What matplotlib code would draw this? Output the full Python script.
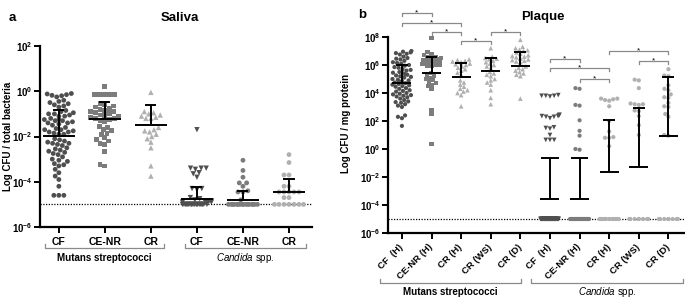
import numpy as np
import matplotlib
matplotlib.use('Agg')
import matplotlib.pyplot as plt
from matplotlib.lines import Line2D
from matplotlib.ticker import FixedLocator, FuncFormatter, NullLocator

plt.rcParams['font.family'] = ['Liberation Sans', 'DejaVu Sans']
plt.rcParams['mathtext.fontset'] = 'custom'
plt.rcParams['mathtext.rm'] = 'Liberation Sans:bold'
plt.rcParams['mathtext.bf'] = 'Liberation Sans:bold'
plt.rcParams['mathtext.it'] = 'Liberation Sans:italic'

# ---------------- DATA (log10 values) ----------------
saliva_labels = ['CF', 'CE-NR', 'CR', 'CF', 'CE-NR', 'CR']

saliva_ms_cf = [-0.1, -0.12, -0.15, -0.18, -0.2, -0.25,
                -0.4, -0.45, -0.5, -0.55, -0.6, -0.65, -0.7,
                -0.85, -0.9, -0.95, -1.0, -1.0, -1.05, -1.1, -1.1,
                -1.2, -1.25, -1.25, -1.3, -1.3, -1.35, -1.4, -1.4, -1.45, -1.5,
                -1.6, -1.65, -1.7, -1.7, -1.75, -1.8, -1.8, -1.85, -1.9, -1.9,
                -2.1, -2.15, -2.2, -2.25, -2.3, -2.3, -2.35, -2.4,
                -2.5, -2.55, -2.6, -2.65, -2.7, -2.75, -2.8,
                -2.9, -3.0, -3.05, -3.1, -3.2, -3.25, -3.3,
                -3.45, -3.6, -3.75, -3.9, -4.2, -4.6, -4.6, -4.6]
saliva_ms_cenr = [0.2, -0.15, -0.15, -0.15, -0.15, -0.15,
                  -0.55, -0.6, -0.65, -0.7, -0.75, -0.8, -0.85, -0.9, -0.9, -0.95,
                  -1.0, -1.0, -1.05, -1.1, -1.1, -1.15, -1.2, -1.2, -1.25, -1.3, -1.35,
                  -1.55, -1.6, -1.7, -1.75, -1.85, -1.9,
                  -2.05, -2.15, -2.2, -2.3, -2.35, -2.65, -3.25, -3.3]
saliva_ms_cr = [-0.05, -0.9, -0.95, -1.0, -1.05, -1.1, -1.15, -1.2, -1.2,
                -1.6, -1.7, -1.75, -1.8, -1.9, -2.0, -2.1, -2.25,
                -2.5, -3.3, -3.75]
saliva_ca_cf = [-1.7, -3.4, -3.4, -3.4, -3.45, -3.6, -3.65, -3.8, -4.3, -4.3, -4.35,
                -4.7, -4.75, -4.8, -4.85, -4.85, -4.85, -4.9, -4.9, -4.9, -4.9,
                -5, -5, -5, -5, -5, -5, -5, -5, -5, -5, -5, -5, -5, -5, -5, -5, -5, -5, -5, -5]
saliva_ca_cenr = [-3.05, -3.5, -3.8, -4.05, -4.05, -4.2, -4.4, -4.45, -4.45, -4.8,
                  -5, -5, -5, -5, -5, -5, -5, -5, -5, -5, -5, -5, -5, -5, -5, -5]
saliva_ca_cr = [-2.8, -3.15, -3.7, -3.7, -4.2, -4.2, -4.45, -4.45, -4.45, -4.45, -4.45,
                -4.7, -4.7, -5, -5, -5, -5, -5, -5, -5]
saliva_median = [-1.99, -1.22, -1.5, -4.78, -4.81, -4.46]
saliva_upper = [-0.81, -0.46, -0.6, -4.22, -4.39, -3.86]

plaque_labels = ['CF  (H)', 'CE-NR (H)', 'CR (H)', 'CR (WS)', 'CR (D)',
                 'CF  (H)', 'CE-NR (H)', 'CR (H)', 'CR (WS)', 'CR (D)']

plaque_ms_cf_h = [7.0, 6.95, 6.9, 6.85, 6.8, 6.75,
                  6.6, 6.5, 6.45, 6.4, 6.3, 6.2, 6.15, 6.1, 6.0, 5.95,
                  5.85, 5.8, 5.7, 5.65, 5.6, 5.5, 5.45, 5.4, 5.35, 5.3, 5.25, 5.2,
                  5.15, 5.1, 5.0, 4.95, 4.9, 4.85, 4.8, 4.75, 4.7, 4.65, 4.6, 4.55, 4.5, 4.45,
                  4.35, 4.3, 4.2, 4.15, 4.1, 4.0, 3.95, 3.9, 3.85, 3.8, 3.75, 3.7,
                  3.6, 3.5, 3.4, 3.35, 3.3, 3.2, 3.1, 3.0, 2.4, 2.3, 2.2, 1.65]
plaque_ms_cenr_h = [7.9, 6.9, 6.8, 6.7,
                    6.6, 6.55, 6.5, 6.5, 6.45, 6.4, 6.4, 6.35, 6.3, 6.3, 6.25, 6.2, 6.2, 6.15,
                    6.1, 6.05, 6.0, 6.0, 5.95, 5.9,
                    5.4, 5.3, 5.2, 5.1, 5.0, 4.9, 4.8, 4.7, 4.6, 4.5, 4.3, 2.8, 2.5, 0.35]
plaque_ms_cr_h = [6.4, 6.35, 6.3, 6.25, 6.2, 6.1, 6.05, 6.0, 5.9, 5.8, 5.7, 5.6, 5.45, 5.3,
                  4.9, 4.75, 4.6, 4.45, 4.3, 4.2, 4.1, 4.0, 3.85, 3.05]
plaque_ms_cr_ws = [7.2, 6.6, 6.5, 6.45, 6.4, 6.3, 6.2, 6.1, 6.0, 5.9, 5.8,
                   5.5, 5.4, 5.3, 5.2, 5.0, 4.9, 4.75, 4.6, 4.2, 3.65, 3.2]
plaque_ms_cr_d = [7.8, 7.3, 7.2, 7.1, 7.05, 7.0, 6.9, 6.8, 6.7,
                  6.65, 6.6, 6.55, 6.5, 6.45, 6.4, 6.35, 6.3, 6.25, 6.2,
                  5.9, 5.8, 5.7, 5.6, 5.5, 5.4, 5.3, 5.2, 3.6]
plaque_ca_cf_h = [3.85, 3.8, 3.8, 3.75, 3.8, 2.45, 2.4, 2.35, 2.35, 2.3, 2.3, 2.2,
                  1.55, 1.5, 1.45, 1.0, 0.65, 0.65, 0.65] + [-5] * 45
plaque_ca_cenr_h = [4.35, 4.3, 3.15, 3.1, 2.05, 1.3, 0.95, 0.0, -0.05] + [-5] * 30
plaque_ca_cr_h = [3.6, 3.55, 3.5, 3.45, 3.6, 3.05, 2.0, 1.25, 0.8, 0.8, 0.85, 0.2] + [-5] * 12
plaque_ca_cr_ws = [4.95, 4.9, 4.35, 3.25, 3.2, 3.2, 3.15, 2.75, 2.7, 2.35, 1.7, 1.0] + [-5] * 8
plaque_ca_cr_d = [5.7, 5.25, 5.2, 4.55, 4.3, 4.2, 3.9, 3.7, 3.65, 3.3, 3.05, 3.0,
                  2.5, 2.3, 1.0, 0.95] + [-5] * 8
plaque_center = [4.69, 5.45, 5.12, 5.57, 5.95, -3.57, -3.6, -1.64, -1.26, 0.95]
plaque_upper = [6.0, 6.6, 6.12, 6.48, 6.95, -0.62, -0.62, 2.07, 2.95, 5.17]

# significance pairs (group i, group j)
plaque_sig_pairs = [(0, 1), (0, 2), (1, 2), (2, 3), (3, 4),
                    (5, 6), (5, 7), (6, 7), (7, 9), (8, 9)]

detection_limit = 1e-5

# ---------------- STYLE ----------------
DARK, MED, LIGHT = '#4f4f4f', '#7c7c7c', '#b0b0b0'
saliva_colors = [DARK, MED, LIGHT, DARK, MED, LIGHT]
saliva_markers = ['o', 's', '^', 'v', 'o', 'o']
plaque_colors = [DARK, MED, LIGHT, LIGHT, LIGHT, DARK, MED, LIGHT, LIGHT, LIGHT]
plaque_markers = ['o', 's', '^', '^', '^', 'v', 'o', 'o', 'o', 'o']
plaque_cap_half = [0.2, 0.2, 0.2, 0.2, 0.2, 0.3, 0.3, 0.2, 0.2, 0.2]
sig_levels = [9.71, 9.0, 8.36, 7.71, 8.36, 6.43, 5.79, 5.0, 7.0, 6.29]

W, H = 685, 298
fig = plt.figure(figsize=(W / 100, H / 100), dpi=100)


def fx(x):
    return x / W


def fy(y):
    return 1 - y / H


axa = fig.add_axes([fx(40), fy(227), 272 / W, (227 - 46) / H])
axb = fig.add_axes([fx(388), fy(233), 297 / W, (233 - 37) / H])

axa.set_yscale('log'); axb.set_yscale('log')
axa.set_xlim(-0.41, 5.5); axa.set_ylim(1e-6, 1e2)
axb.set_xlim(-0.47, 9.56); axb.set_ylim(1e-6, 1e8)


def swarm(ax, xc, logs, d, wmax):
    vals = 10.0 ** np.asarray(logs, dtype=float)
    pts = ax.transData.transform(np.column_stack([np.full(len(vals), xc), vals]))
    ypx = pts[:, 1]
    xs = np.zeros(len(vals))
    placed = []
    overflow = []
    for i in np.argsort(ypx, kind='stable'):
        y = ypx[i]
        cands = [0.0]
        for (xj, yj) in placed:
            dy = abs(y - yj)
            if dy < d:
                dx = np.sqrt(d * d - dy * dy)
                cands += [xj - dx, xj + dx]
        cands.sort(key=abs)
        chosen = None
        for c in cands:
            if abs(c) > wmax + 1e-9:
                break
            if all((c - xj) ** 2 + (y - yj) ** 2 >= d * d - 1e-6 for xj, yj in placed):
                chosen = c
                break
        if chosen is None:
            overflow.append(i)
        else:
            xs[i] = chosen
            placed.append((chosen, y))
    if overflow:
        n = len(overflow)
        xs[overflow] = np.linspace(-wmax, wmax, n) if n > 1 else 0.0
    p0 = ax.transData.transform((xc, 1.0))[0]
    p1 = ax.transData.transform((xc + 1, 1.0))[0]
    return xc + xs / (p1 - p0), vals


def draw_groups(ax, groups, colors, markers, center, upper, d, wmax, s,
                wide_half, cap_half):
    for k, logs in enumerate(groups):
        xs, vals = swarm(ax, k, logs, d, wmax)
        ss = s * 1.25 if markers[k] in ('^', 'v') else s
        ax.scatter(xs, vals, s=ss, marker=markers[k], color=colors[k],
                   edgecolors='none', zorder=3, clip_on=False)
    for k in range(len(groups)):
        m, u = 10 ** center[k], 10 ** upper[k]
        ch = cap_half[k] if isinstance(cap_half, list) else cap_half
        ax.plot([k, k], [m, u], color='black', lw=1.4, zorder=4, solid_capstyle='butt')
        ax.plot([k - wide_half, k + wide_half], [m, m], color='black', lw=1.4, zorder=4,
                solid_capstyle='butt')
        ax.plot([k - ch, k + ch], [u, u], color='black', lw=1.4, zorder=4,
                solid_capstyle='butt')


saliva_groups = [saliva_ms_cf, saliva_ms_cenr, saliva_ms_cr,
                 saliva_ca_cf, saliva_ca_cenr, saliva_ca_cr]
plaque_groups = [plaque_ms_cf_h, plaque_ms_cenr_h, plaque_ms_cr_h, plaque_ms_cr_ws,
                 plaque_ms_cr_d, plaque_ca_cf_h, plaque_ca_cenr_h, plaque_ca_cr_h,
                 plaque_ca_cr_ws, plaque_ca_cr_d]

draw_groups(axa, saliva_groups, saliva_colors, saliva_markers, saliva_median,
            saliva_upper, d=5.0, wmax=14.5, s=12, wide_half=0.34, cap_half=0.12)
draw_groups(axb, plaque_groups, plaque_colors, plaque_markers, plaque_center,
            plaque_upper, d=4.2, wmax=9.5, s=9, wide_half=0.32, cap_half=plaque_cap_half)

for ax in (axa, axb):
    ax.axhline(detection_limit, ls=(0, (1, 1.2)), color='black', lw=0.9, zorder=2)
    for sp in ('top', 'right'):
        ax.spines[sp].set_visible(False)
    for sp in ('left', 'bottom'):
        ax.spines[sp].set_linewidth(1.6)
    ax.tick_params(axis='both', which='major', direction='out', length=4, width=1.4,
                   pad=1.5)
    ax.yaxis.set_minor_locator(NullLocator())

fmt = FuncFormatter(lambda v, p: r'$\mathbf{10^{%d}}$' % int(round(np.log10(v))))
axa.yaxis.set_major_locator(FixedLocator([10.0 ** e for e in range(-6, 3, 2)]))
axb.yaxis.set_major_locator(FixedLocator([10.0 ** e for e in range(-6, 9, 2)]))
for ax in (axa, axb):
    ax.yaxis.set_major_formatter(fmt)
    for t in ax.get_yticklabels():
        t.set_fontsize(7)

axa.set_xticks(range(len(saliva_labels)))
axa.set_xticklabels(saliva_labels, fontsize=7.5, fontweight='bold')
axa.tick_params(axis='x', pad=3)
axb.set_xticks(range(len(plaque_labels)))
axb.set_xticklabels(plaque_labels, fontsize=6.8, fontweight='bold', rotation=45,
                    ha='right', va='center', rotation_mode='anchor')
axb.tick_params(axis='x', pad=5)

axa.set_ylabel('Log CFU / total bacteria', fontsize=7, fontweight='bold')
axa.yaxis.set_label_coords(-0.1, 0.5)
axb.set_ylabel('Log CFU / mg protein', fontsize=7, fontweight='bold')
axb.yaxis.set_label_coords(-0.125, 0.56)

# significance brackets
for (i, j), h in zip(plaque_sig_pairs, sig_levels):
    y, yl = 10 ** h, 10 ** (h - 0.22)
    axb.plot([i, i, j, j], [yl, y, y, yl], color='#8a8a8a', lw=0.9, clip_on=False, zorder=5)
    axb.text((i + j) / 2, 10 ** (h - 0.12), '*', fontsize=6, ha='center', va='baseline',
             color='black', clip_on=False)

# titles and panel letters
fig.text(fx(180), fy(18), 'Saliva', fontsize=9.5, fontweight='bold', ha='center', va='center')
fig.text(fx(543), fy(17), 'Plaque', fontsize=9.5, fontweight='bold', ha='center', va='center')
fig.text(fx(12), fy(18), 'a', fontsize=9.5, fontweight='bold', ha='center', va='center')
fig.text(fx(362), fy(15), 'b', fontsize=9.5, fontweight='bold', ha='center', va='center')


def group_bracket(x0, x1, y, ty, label, italic=False):
    fig.add_artist(Line2D([fx(x0), fx(x0), fx(x1), fx(x1)],
                          [fy(y - 4), fy(y), fy(y), fy(y - 4)],
                          transform=fig.transFigure, color='#8a8a8a', lw=0.9))
    if italic:
        fig.text(fx((x0 + x1) / 2), fy(ty), r'$\mathit{Candida}$ spp.', fontsize=7,
                 ha='center', va='center')
    else:
        fig.text(fx((x0 + x1) / 2), fy(ty), label, fontsize=7, fontweight='bold',
                 ha='center', va='center')


group_bracket(45, 164, 248, 258, 'Mutans streptococci')
group_bracket(185, 306, 248, 258, 'Candida spp.', italic=True)
group_bracket(380, 521, 283, 292, 'Mutans streptococci')
group_bracket(531, 683, 283, 292, 'Candida spp.', italic=True)

fig.savefig('out.png', dpi=100)
